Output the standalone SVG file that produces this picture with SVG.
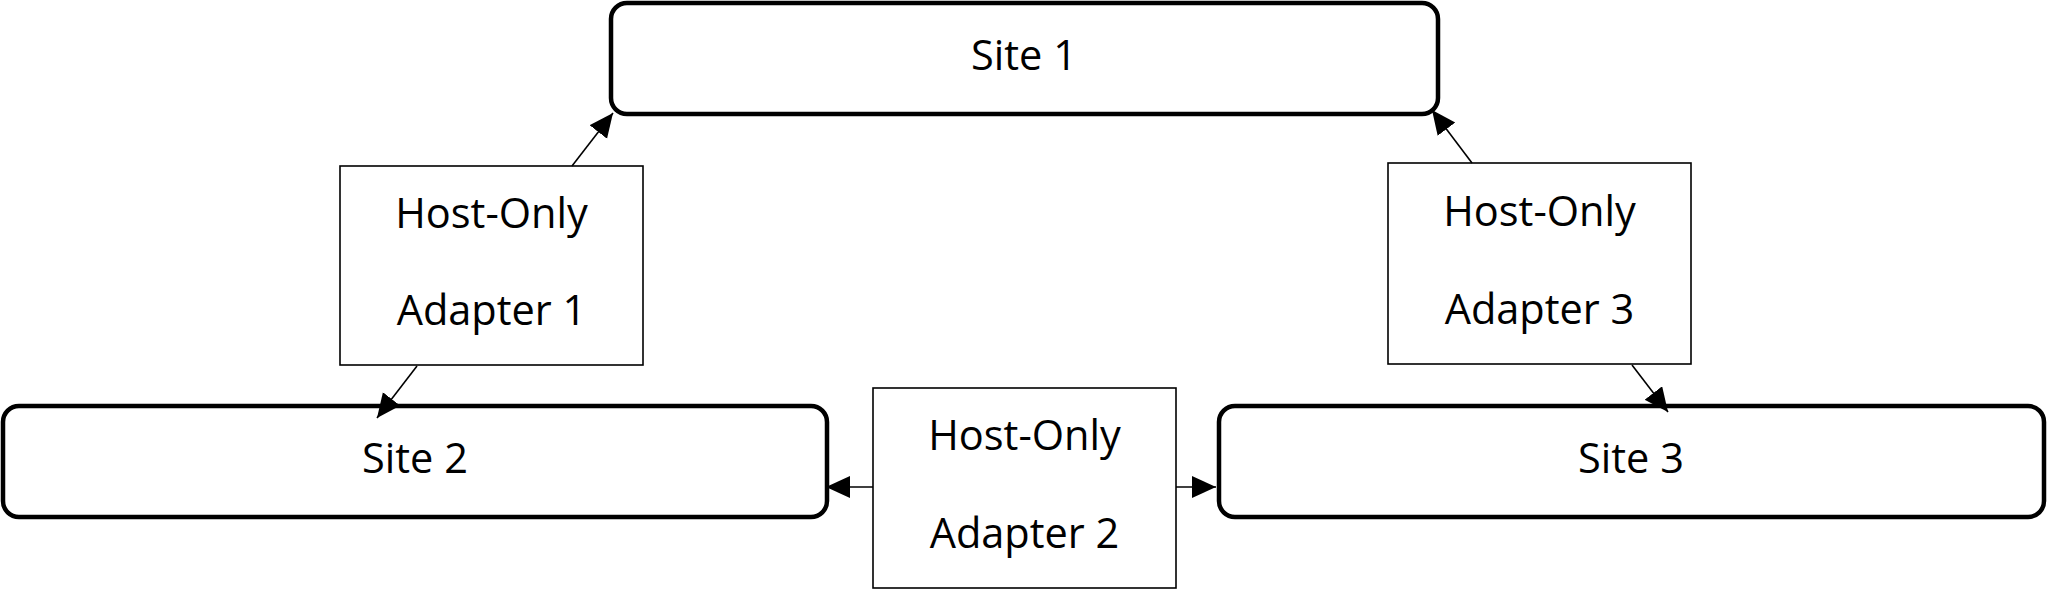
<svg xmlns="http://www.w3.org/2000/svg" width="2048" height="590" viewBox="0 0 2048 590">
<style>
.site{fill:#fff;stroke:#000;stroke-width:4.5}
.adp{fill:#fff;stroke:#000;stroke-width:1.6}
.t{font-family:"Open Sans","Noto Sans",sans-serif;font-size:41.5px;fill:#000;text-anchor:middle}
.c{stroke:#000;stroke-width:1.6;fill:none;marker-end:url(#ah)}
</style>
<defs>
<marker id="ah" markerUnits="userSpaceOnUse" markerWidth="26" markerHeight="24" refX="24" refY="11" orient="auto">
<path d="M0,0 L24,11 L0,22 z" fill="#000"/>
</marker>
</defs>
<rect width="2048" height="590" fill="#fff"/>
<g id="site1"><rect class="site" x="611" y="3" width="827" height="111" rx="16" ry="16"/><text class="t" x="1024" y="70">Site 1</text></g>
<g id="site2"><rect class="site" x="3" y="406" width="824" height="111" rx="16" ry="16"/><text class="t" x="415" y="473">Site 2</text></g>
<g id="site3"><rect class="site" x="1219" y="406" width="825" height="111" rx="16" ry="16"/><text class="t" x="1631" y="473">Site 3</text></g>
<g id="adapter1"><rect class="adp" x="340" y="166" width="303" height="199"/><text class="t" x="491.5" y="228">Host-Only</text><text class="t" x="491.5" y="325">Adapter 1</text></g>
<g id="adapter3"><rect class="adp" x="1388" y="163" width="303" height="201"/><text class="t" x="1539.5" y="226">Host-Only</text><text class="t" x="1539.5" y="324">Adapter 3</text></g>
<g id="adapter2"><rect class="adp" x="873" y="388" width="303" height="200"/><text class="t" x="1024.5" y="450">Host-Only</text><text class="t" x="1024.5" y="548">Adapter 2</text></g>
<g id="connectors">
<line class="c" x1="572" y1="166" x2="613" y2="113"/>
<line class="c" x1="417" y1="366" x2="377" y2="418"/>
<line class="c" x1="1472" y1="163" x2="1432" y2="110"/>
<line class="c" x1="1632" y1="365" x2="1668" y2="412"/>
<line class="c" x1="873" y1="487" x2="826" y2="487"/>
<line class="c" x1="1176" y1="487" x2="1216" y2="487"/>
</g>
</svg>
